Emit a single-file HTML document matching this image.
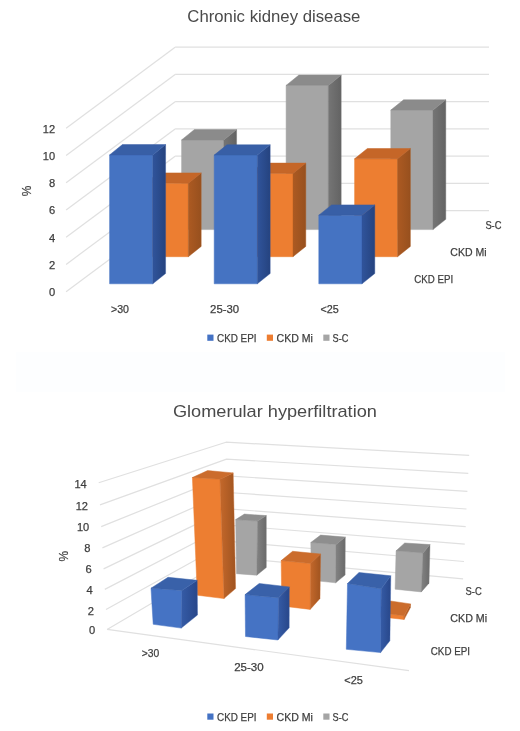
<!DOCTYPE html>
<html><head><meta charset="utf-8"><title>Charts</title>
<style>
html,body{margin:0;padding:0;background:#fff;}
svg{display:block;font-family:"Liberation Sans",sans-serif;}
</style></head>
<body>
<svg width="520" height="731" viewBox="0 0 520 731">
<defs><linearGradient id="s1b" x1="0" y1="0" x2="1" y2="0"><stop offset="0" stop-color="#30549B"/><stop offset="1" stop-color="#25437F"/></linearGradient><linearGradient id="s1o" x1="0" y1="0" x2="1" y2="0"><stop offset="0" stop-color="#AC5A22"/><stop offset="1" stop-color="#97501E"/></linearGradient><linearGradient id="s1g" x1="0" y1="0" x2="1" y2="0"><stop offset="0" stop-color="#757575"/><stop offset="1" stop-color="#636363"/></linearGradient><linearGradient id="s2b" x1="0" y1="0" x2="1" y2="0"><stop offset="0" stop-color="#355BA6"/><stop offset="1" stop-color="#28478A"/></linearGradient><linearGradient id="s2o" x1="0" y1="0" x2="1" y2="0"><stop offset="0" stop-color="#C4682B"/><stop offset="1" stop-color="#A05420"/></linearGradient><linearGradient id="s2g" x1="0" y1="0" x2="1" y2="0"><stop offset="0" stop-color="#828282"/><stop offset="1" stop-color="#6A6A6A"/></linearGradient></defs>
<rect width="520" height="731" fill="#fff"/>
<rect x="16" y="352" width="489" height="40" fill="#FDFEFF"/>
<line x1="66.1" y1="291.7" x2="175.1" y2="210.7" stroke="#E0E0E0" stroke-width="1.2"/>
<line x1="175.1" y1="210.7" x2="489.0" y2="210.7" stroke="#E0E0E0" stroke-width="1.2"/>
<line x1="66.1" y1="264.4" x2="175.1" y2="183.4" stroke="#E0E0E0" stroke-width="1.2"/>
<line x1="175.1" y1="183.4" x2="489.0" y2="183.4" stroke="#E0E0E0" stroke-width="1.2"/>
<line x1="66.1" y1="237.2" x2="175.1" y2="156.2" stroke="#E0E0E0" stroke-width="1.2"/>
<line x1="175.1" y1="156.2" x2="489.0" y2="156.2" stroke="#E0E0E0" stroke-width="1.2"/>
<line x1="66.1" y1="209.9" x2="175.1" y2="128.9" stroke="#E0E0E0" stroke-width="1.2"/>
<line x1="175.1" y1="128.9" x2="489.0" y2="128.9" stroke="#E0E0E0" stroke-width="1.2"/>
<line x1="66.1" y1="182.7" x2="175.1" y2="101.7" stroke="#E0E0E0" stroke-width="1.2"/>
<line x1="175.1" y1="101.7" x2="489.0" y2="101.7" stroke="#E0E0E0" stroke-width="1.2"/>
<line x1="66.1" y1="155.4" x2="175.1" y2="74.4" stroke="#E0E0E0" stroke-width="1.2"/>
<line x1="175.1" y1="74.4" x2="489.0" y2="74.4" stroke="#E0E0E0" stroke-width="1.2"/>
<line x1="66.1" y1="128.2" x2="175.1" y2="47.2" stroke="#E0E0E0" stroke-width="1.2"/>
<line x1="175.1" y1="47.2" x2="489.0" y2="47.2" stroke="#E0E0E0" stroke-width="1.2"/>
<polygon points="181.6,139.9 223.8,139.9 223.8,229.6 181.6,229.6" fill="#A5A5A5" stroke="#A5A5A5" stroke-width="0.5" stroke-linejoin="round"/>
<polygon points="223.8,139.9 236.6,129.6 236.6,219.3 223.8,229.6" fill="url(#s1g)" stroke="#757575" stroke-width="0.4" stroke-linejoin="round"/>
<polygon points="181.6,139.9 194.4,129.6 236.6,129.6 223.8,139.9" fill="#8B8B8B" stroke="#8B8B8B" stroke-width="0.5" stroke-linejoin="round"/>
<polygon points="286.1,85.4 328.4,85.4 328.4,229.6 286.1,229.6" fill="#A5A5A5" stroke="#A5A5A5" stroke-width="0.5" stroke-linejoin="round"/>
<polygon points="328.4,85.4 341.2,75.1 341.2,219.3 328.4,229.6" fill="url(#s1g)" stroke="#757575" stroke-width="0.4" stroke-linejoin="round"/>
<polygon points="286.1,85.4 298.9,75.1 341.2,75.1 328.4,85.4" fill="#8B8B8B" stroke="#8B8B8B" stroke-width="0.5" stroke-linejoin="round"/>
<polygon points="390.8,110.1 433.0,110.1 433.0,229.6 390.8,229.6" fill="#A5A5A5" stroke="#A5A5A5" stroke-width="0.5" stroke-linejoin="round"/>
<polygon points="433.0,110.1 445.8,99.8 445.8,219.3 433.0,229.6" fill="url(#s1g)" stroke="#757575" stroke-width="0.4" stroke-linejoin="round"/>
<polygon points="390.8,110.1 403.6,99.8 445.8,99.8 433.0,110.1" fill="#8B8B8B" stroke="#8B8B8B" stroke-width="0.5" stroke-linejoin="round"/>
<polygon points="145.4,183.2 188.4,183.2 188.4,256.7 145.4,256.7" fill="#ED7E31" stroke="#ED7E31" stroke-width="0.5" stroke-linejoin="round"/>
<polygon points="188.4,183.2 201.2,172.9 201.2,246.4 188.4,256.7" fill="url(#s1o)" stroke="#AC5A22" stroke-width="0.4" stroke-linejoin="round"/>
<polygon points="145.4,183.2 158.2,172.9 201.2,172.9 188.4,183.2" fill="#C56628" stroke="#C56628" stroke-width="0.5" stroke-linejoin="round"/>
<polygon points="250.0,173.4 293.0,173.4 293.0,256.7 250.0,256.7" fill="#ED7E31" stroke="#ED7E31" stroke-width="0.5" stroke-linejoin="round"/>
<polygon points="293.0,173.4 305.8,163.1 305.8,246.4 293.0,256.7" fill="url(#s1o)" stroke="#AC5A22" stroke-width="0.4" stroke-linejoin="round"/>
<polygon points="250.0,173.4 262.8,163.1 305.8,163.1 293.0,173.4" fill="#C56628" stroke="#C56628" stroke-width="0.5" stroke-linejoin="round"/>
<polygon points="354.6,158.8 397.6,158.8 397.6,256.7 354.6,256.7" fill="#ED7E31" stroke="#ED7E31" stroke-width="0.5" stroke-linejoin="round"/>
<polygon points="397.6,158.8 410.4,148.5 410.4,246.4 397.6,256.7" fill="url(#s1o)" stroke="#AC5A22" stroke-width="0.4" stroke-linejoin="round"/>
<polygon points="354.6,158.8 367.4,148.5 410.4,148.5 397.6,158.8" fill="#C56628" stroke="#C56628" stroke-width="0.5" stroke-linejoin="round"/>
<polygon points="109.6,154.9 152.8,154.9 152.8,283.8 109.6,283.8" fill="#4573C2" stroke="#4573C2" stroke-width="0.5" stroke-linejoin="round"/>
<polygon points="152.8,154.9 165.6,144.6 165.6,273.5 152.8,283.8" fill="url(#s1b)" stroke="#30549B" stroke-width="0.4" stroke-linejoin="round"/>
<polygon points="109.6,154.9 122.4,144.6 165.6,144.6 152.8,154.9" fill="#385FA6" stroke="#385FA6" stroke-width="0.5" stroke-linejoin="round"/>
<polygon points="214.2,155.1 257.4,155.1 257.4,283.8 214.2,283.8" fill="#4573C2" stroke="#4573C2" stroke-width="0.5" stroke-linejoin="round"/>
<polygon points="257.4,155.1 270.2,144.8 270.2,273.5 257.4,283.8" fill="url(#s1b)" stroke="#30549B" stroke-width="0.4" stroke-linejoin="round"/>
<polygon points="214.2,155.1 227.0,144.8 270.2,144.8 257.4,155.1" fill="#385FA6" stroke="#385FA6" stroke-width="0.5" stroke-linejoin="round"/>
<polygon points="318.8,215.2 362.0,215.2 362.0,283.8 318.8,283.8" fill="#4573C2" stroke="#4573C2" stroke-width="0.5" stroke-linejoin="round"/>
<polygon points="362.0,215.2 374.8,204.9 374.8,273.5 362.0,283.8" fill="url(#s1b)" stroke="#30549B" stroke-width="0.4" stroke-linejoin="round"/>
<polygon points="318.8,215.2 331.6,204.9 374.8,204.9 362.0,215.2" fill="#385FA6" stroke="#385FA6" stroke-width="0.5" stroke-linejoin="round"/>
<text x="187.3" y="22.4" font-size="17" text-anchor="start" fill="#4A4A4A" textLength="173.1" lengthAdjust="spacingAndGlyphs" >Chronic kidney disease</text>
<text x="55.1" y="296.1" font-size="11" text-anchor="end" fill="#3E3E3E" textLength="6.2" lengthAdjust="spacingAndGlyphs" stroke="#3E3E3E" stroke-width="0.25">0</text>
<text x="55.1" y="268.8" font-size="11" text-anchor="end" fill="#3E3E3E" textLength="6.2" lengthAdjust="spacingAndGlyphs" stroke="#3E3E3E" stroke-width="0.25">2</text>
<text x="55.1" y="241.6" font-size="11" text-anchor="end" fill="#3E3E3E" textLength="6.2" lengthAdjust="spacingAndGlyphs" stroke="#3E3E3E" stroke-width="0.25">4</text>
<text x="55.1" y="214.3" font-size="11" text-anchor="end" fill="#3E3E3E" textLength="6.2" lengthAdjust="spacingAndGlyphs" stroke="#3E3E3E" stroke-width="0.25">6</text>
<text x="55.1" y="187.1" font-size="11" text-anchor="end" fill="#3E3E3E" textLength="6.2" lengthAdjust="spacingAndGlyphs" stroke="#3E3E3E" stroke-width="0.25">8</text>
<text x="55.1" y="159.8" font-size="11" text-anchor="end" fill="#3E3E3E" textLength="12.3" lengthAdjust="spacingAndGlyphs" stroke="#3E3E3E" stroke-width="0.25">10</text>
<text x="55.1" y="132.6" font-size="11" text-anchor="end" fill="#3E3E3E" textLength="12.3" lengthAdjust="spacingAndGlyphs" stroke="#3E3E3E" stroke-width="0.25">12</text>
<text transform="translate(31.1,190.9) rotate(-90)" font-size="12.6" stroke="#444" stroke-width="0.2" text-anchor="middle" fill="#3E3E3E" textLength="10.6" lengthAdjust="spacingAndGlyphs">%</text>
<text x="111.0" y="312.5" font-size="11" text-anchor="start" fill="#3E3E3E" textLength="18.0" lengthAdjust="spacingAndGlyphs" stroke="#3E3E3E" stroke-width="0.25">&gt;30</text>
<text x="210.1" y="312.5" font-size="11" text-anchor="start" fill="#3E3E3E" textLength="29.1" lengthAdjust="spacingAndGlyphs" stroke="#3E3E3E" stroke-width="0.25">25-30</text>
<text x="320.5" y="312.5" font-size="11" text-anchor="start" fill="#3E3E3E" textLength="18.3" lengthAdjust="spacingAndGlyphs" stroke="#3E3E3E" stroke-width="0.25">&lt;25</text>
<text x="414.3" y="282.8" font-size="11" text-anchor="start" fill="#3E3E3E" textLength="38.8" lengthAdjust="spacingAndGlyphs" stroke="#3E3E3E" stroke-width="0.25">CKD EPI</text>
<text x="450.3" y="256.3" font-size="11" text-anchor="start" fill="#3E3E3E" textLength="36.2" lengthAdjust="spacingAndGlyphs" stroke="#3E3E3E" stroke-width="0.25">CKD Mi</text>
<text x="485.4" y="229.2" font-size="11" text-anchor="start" fill="#3E3E3E" textLength="16.1" lengthAdjust="spacingAndGlyphs" stroke="#3E3E3E" stroke-width="0.25">S-C</text>
<rect x="207.3" y="334.6" width="6.2" height="6.2" fill="#4472C4"/>
<rect x="266.8" y="334.6" width="6.2" height="6.2" fill="#ED7D31"/>
<rect x="323.3" y="334.6" width="6.2" height="6.2" fill="#A5A5A5"/>
<text x="217.0" y="342.0" font-size="11" text-anchor="start" fill="#3E3E3E" textLength="39.5" lengthAdjust="spacingAndGlyphs" stroke="#3E3E3E" stroke-width="0.25">CKD EPI</text>
<text x="276.5" y="342.0" font-size="11" text-anchor="start" fill="#3E3E3E" textLength="36.4" lengthAdjust="spacingAndGlyphs" stroke="#3E3E3E" stroke-width="0.25">CKD Mi</text>
<text x="332.6" y="342.0" font-size="11" text-anchor="start" fill="#3E3E3E" textLength="15.9" lengthAdjust="spacingAndGlyphs" stroke="#3E3E3E" stroke-width="0.25">S-C</text>
<polyline points="107.1,629.4 229.5,557.4 463.1,578.8" fill="none" stroke="#E0E0E0" stroke-width="1.2" stroke-linejoin="round"/>
<polyline points="106.0,609.6 229.0,541.4 464.0,561.5" fill="none" stroke="#E0E0E0" stroke-width="1.2" stroke-linejoin="round"/>
<polyline points="104.8,589.4 228.5,525.2 464.8,544.2" fill="none" stroke="#E0E0E0" stroke-width="1.2" stroke-linejoin="round"/>
<polyline points="103.6,568.9 228.0,508.9 465.7,526.7" fill="none" stroke="#E0E0E0" stroke-width="1.2" stroke-linejoin="round"/>
<polyline points="102.4,547.9 227.5,492.5 466.5,509.0" fill="none" stroke="#E0E0E0" stroke-width="1.2" stroke-linejoin="round"/>
<polyline points="101.2,526.6 227.0,475.9 467.4,491.3" fill="none" stroke="#E0E0E0" stroke-width="1.2" stroke-linejoin="round"/>
<polyline points="100.0,504.9 226.5,459.1 468.3,473.4" fill="none" stroke="#E0E0E0" stroke-width="1.2" stroke-linejoin="round"/>
<polyline points="98.7,482.8 226.0,442.2 469.2,455.4" fill="none" stroke="#E0E0E0" stroke-width="1.2" stroke-linejoin="round"/>
<line x1="107.1" y1="629.4" x2="409.0" y2="670.7" stroke="#E0E0E0" stroke-width="1.2"/>
<polygon points="235.7,519.6 257.6,521.0 256.8,575.2 236.5,573.7" fill="#A5A5A5" stroke="#A5A5A5" stroke-width="0.5" stroke-linejoin="round"/>
<polygon points="257.6,521.0 266.3,515.6 266.3,567.5 256.8,575.2" fill="url(#s2g)" stroke="#828282" stroke-width="0.4" stroke-linejoin="round"/>
<polygon points="235.7,519.6 244.4,514.1 266.3,515.6 257.6,521.0" fill="#8E8E8E" stroke="#8E8E8E" stroke-width="0.5" stroke-linejoin="round"/>
<polygon points="310.8,542.5 336.0,544.4 335.7,582.8 311.5,580.3" fill="#A5A5A5" stroke="#A5A5A5" stroke-width="0.5" stroke-linejoin="round"/>
<polygon points="336.0,544.4 345.3,537.1 345.1,575.0 335.7,582.8" fill="url(#s2g)" stroke="#828282" stroke-width="0.4" stroke-linejoin="round"/>
<polygon points="310.8,542.5 320.6,535.1 345.3,537.1 336.0,544.4" fill="#8E8E8E" stroke="#8E8E8E" stroke-width="0.5" stroke-linejoin="round"/>
<polygon points="396.1,550.8 423.0,552.9 421.3,591.9 395.1,589.2" fill="#A5A5A5" stroke="#A5A5A5" stroke-width="0.5" stroke-linejoin="round"/>
<polygon points="423.0,552.9 430.0,544.6 429.0,583.2 421.3,591.9" fill="url(#s2g)" stroke="#828282" stroke-width="0.4" stroke-linejoin="round"/>
<polygon points="396.1,550.8 404.7,543.0 430.0,544.6 423.0,552.9" fill="#8E8E8E" stroke="#8E8E8E" stroke-width="0.5" stroke-linejoin="round"/>
<polygon points="192.4,477.5 220.0,479.2 224.0,598.6 197.3,595.2" fill="#ED7E31" stroke="#ED7E31" stroke-width="0.5" stroke-linejoin="round"/>
<polygon points="220.0,479.2 233.2,472.9 235.6,588.6 224.0,598.6" fill="url(#s2o)" stroke="#C4682B" stroke-width="0.4" stroke-linejoin="round"/>
<polygon points="192.4,477.5 207.6,470.6 233.2,472.9 220.0,479.2" fill="#CB6C2C" stroke="#CB6C2C" stroke-width="0.5" stroke-linejoin="round"/>
<polygon points="281.2,560.6 310.6,563.5 310.2,609.4 281.8,606.0" fill="#ED7E31" stroke="#ED7E31" stroke-width="0.5" stroke-linejoin="round"/>
<polygon points="310.6,563.5 320.6,554.0 320.0,598.6 310.2,609.4" fill="url(#s2o)" stroke="#C4682B" stroke-width="0.4" stroke-linejoin="round"/>
<polygon points="281.2,560.6 292.6,551.3 320.6,554.0 310.6,563.5" fill="#CB6C2C" stroke="#CB6C2C" stroke-width="0.5" stroke-linejoin="round"/>
<polygon points="377.0,612.6 404.1,615.7 404.1,619.5 377.0,616.4" fill="#ED7E31" stroke="#ED7E31" stroke-width="0.5" stroke-linejoin="round"/>
<polygon points="404.1,615.7 410.5,603.9 410.5,607.4 404.1,619.5" fill="url(#s2o)" stroke="#C4682B" stroke-width="0.4" stroke-linejoin="round"/>
<polygon points="377.0,612.6 390.4,601.0 410.5,603.9 404.1,615.7" fill="#CB6C2C" stroke="#CB6C2C" stroke-width="0.5" stroke-linejoin="round"/>
<polygon points="151.0,588.2 181.9,590.4 181.3,628.1 153.2,624.3" fill="#4573C4" stroke="#4573C4" stroke-width="0.5" stroke-linejoin="round"/>
<polygon points="181.9,590.4 197.2,580.3 197.5,615.0 181.3,628.1" fill="url(#s2b)" stroke="#355BA6" stroke-width="0.4" stroke-linejoin="round"/>
<polygon points="151.0,588.2 168.0,577.3 197.2,580.3 181.9,590.4" fill="#3961A9" stroke="#3961A9" stroke-width="0.5" stroke-linejoin="round"/>
<polygon points="245.1,594.6 278.6,597.7 277.9,640.0 245.5,636.5" fill="#4573C4" stroke="#4573C4" stroke-width="0.5" stroke-linejoin="round"/>
<polygon points="278.6,597.7 289.3,586.9 289.2,627.8 277.9,640.0" fill="url(#s2b)" stroke="#355BA6" stroke-width="0.4" stroke-linejoin="round"/>
<polygon points="245.1,594.6 259.2,583.5 289.3,586.9 278.6,597.7" fill="#3961A9" stroke="#3961A9" stroke-width="0.5" stroke-linejoin="round"/>
<polygon points="347.5,583.5 381.2,588.8 380.6,652.6 346.3,649.3" fill="#4573C4" stroke="#4573C4" stroke-width="0.5" stroke-linejoin="round"/>
<polygon points="381.2,588.8 390.8,575.8 389.9,640.8 380.6,652.6" fill="url(#s2b)" stroke="#355BA6" stroke-width="0.4" stroke-linejoin="round"/>
<polygon points="347.5,583.5 359.0,572.5 390.8,575.8 381.2,588.8" fill="#3961A9" stroke="#3961A9" stroke-width="0.5" stroke-linejoin="round"/>
<text x="172.9" y="417.4" font-size="17" text-anchor="start" fill="#4A4A4A" textLength="204.0" lengthAdjust="spacingAndGlyphs" >Glomerular hyperfiltration</text>
<text x="95.1" y="634.3" font-size="11" text-anchor="end" fill="#3E3E3E" textLength="6.2" lengthAdjust="spacingAndGlyphs" stroke="#3E3E3E" stroke-width="0.25">0</text>
<text x="94.0" y="614.8" font-size="11" text-anchor="end" fill="#3E3E3E" textLength="6.2" lengthAdjust="spacingAndGlyphs" stroke="#3E3E3E" stroke-width="0.25">2</text>
<text x="92.8" y="593.9" font-size="11" text-anchor="end" fill="#3E3E3E" textLength="6.2" lengthAdjust="spacingAndGlyphs" stroke="#3E3E3E" stroke-width="0.25">4</text>
<text x="91.6" y="573.0" font-size="11" text-anchor="end" fill="#3E3E3E" textLength="6.2" lengthAdjust="spacingAndGlyphs" stroke="#3E3E3E" stroke-width="0.25">6</text>
<text x="90.4" y="552.1" font-size="11" text-anchor="end" fill="#3E3E3E" textLength="6.2" lengthAdjust="spacingAndGlyphs" stroke="#3E3E3E" stroke-width="0.25">8</text>
<text x="89.2" y="530.8" font-size="11" text-anchor="end" fill="#3E3E3E" textLength="12.3" lengthAdjust="spacingAndGlyphs" stroke="#3E3E3E" stroke-width="0.25">10</text>
<text x="88.0" y="509.6" font-size="11" text-anchor="end" fill="#3E3E3E" textLength="12.3" lengthAdjust="spacingAndGlyphs" stroke="#3E3E3E" stroke-width="0.25">12</text>
<text x="86.7" y="488.1" font-size="11" text-anchor="end" fill="#3E3E3E" textLength="12.3" lengthAdjust="spacingAndGlyphs" stroke="#3E3E3E" stroke-width="0.25">14</text>
<text transform="translate(68.3,556.3) rotate(-90)" font-size="12.6" stroke="#444" stroke-width="0.2" text-anchor="middle" fill="#3E3E3E" textLength="10.6" lengthAdjust="spacingAndGlyphs">%</text>
<text x="141.8" y="657.3" font-size="11" text-anchor="start" fill="#3E3E3E" textLength="17.5" lengthAdjust="spacingAndGlyphs" stroke="#3E3E3E" stroke-width="0.25">&gt;30</text>
<text x="234.2" y="671.3" font-size="11" text-anchor="start" fill="#3E3E3E" textLength="29.5" lengthAdjust="spacingAndGlyphs" stroke="#3E3E3E" stroke-width="0.25">25-30</text>
<text x="344.3" y="683.5" font-size="11" text-anchor="start" fill="#3E3E3E" textLength="18.6" lengthAdjust="spacingAndGlyphs" stroke="#3E3E3E" stroke-width="0.25">&lt;25</text>
<text x="430.8" y="654.7" font-size="11" text-anchor="start" fill="#3E3E3E" textLength="39.2" lengthAdjust="spacingAndGlyphs" stroke="#3E3E3E" stroke-width="0.25">CKD EPI</text>
<text x="450.3" y="622.0" font-size="11" text-anchor="start" fill="#3E3E3E" textLength="36.8" lengthAdjust="spacingAndGlyphs" stroke="#3E3E3E" stroke-width="0.25">CKD Mi</text>
<text x="465.6" y="595.0" font-size="11" text-anchor="start" fill="#3E3E3E" textLength="16.2" lengthAdjust="spacingAndGlyphs" stroke="#3E3E3E" stroke-width="0.25">S-C</text>
<rect x="207.3" y="713.5" width="6.2" height="6.2" fill="#4472C4"/>
<rect x="266.8" y="713.5" width="6.2" height="6.2" fill="#ED7D31"/>
<rect x="323.3" y="713.5" width="6.2" height="6.2" fill="#A5A5A5"/>
<text x="217.0" y="720.9" font-size="11" text-anchor="start" fill="#3E3E3E" textLength="39.5" lengthAdjust="spacingAndGlyphs" stroke="#3E3E3E" stroke-width="0.25">CKD EPI</text>
<text x="276.5" y="720.9" font-size="11" text-anchor="start" fill="#3E3E3E" textLength="36.4" lengthAdjust="spacingAndGlyphs" stroke="#3E3E3E" stroke-width="0.25">CKD Mi</text>
<text x="332.6" y="720.9" font-size="11" text-anchor="start" fill="#3E3E3E" textLength="15.9" lengthAdjust="spacingAndGlyphs" stroke="#3E3E3E" stroke-width="0.25">S-C</text>
</svg>
</body></html>
